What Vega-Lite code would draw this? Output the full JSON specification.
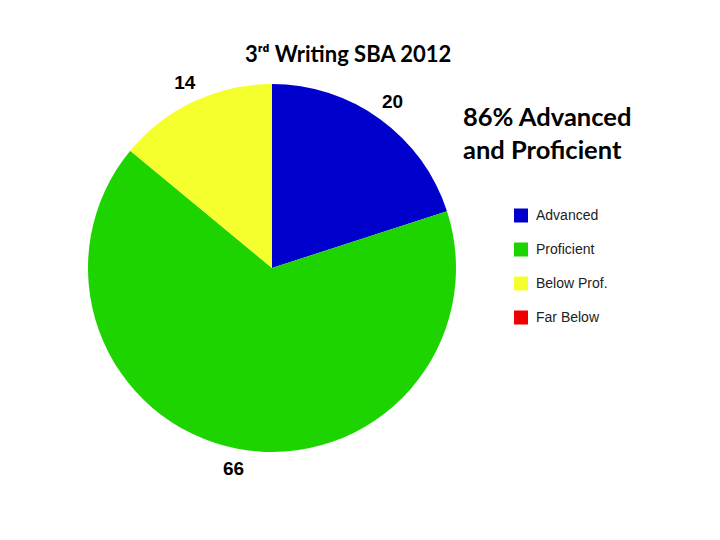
{
  "$schema": "https://vega.github.io/schema/vega-lite/v6.json",
  "width": 544,
  "height": 536,
  "autosize": "none",
  "padding": {"left": 0, "top": 0, "right": 176, "bottom": 4},
  "background": "white",
  "title": {
    "text": "3ʳᵈ Writing SBA 2012",
    "anchor": "start",
    "frame": "group",
    "offset": -67,
    "dx": 245,
    "font": "Lato",
    "fontSize": 22,
    "fontWeight": "bold",
    "color": "black"
  },
  "data": {
    "values": [
      {"level": "Advanced", "pct": 20, "rank": 1},
      {"level": "Proficient", "pct": 66, "rank": 2},
      {"level": "Below Prof.", "pct": 14, "rank": 3},
      {"level": "Far Below", "pct": 0, "rank": 4}
    ]
  },
  "encoding": {
    "theta": {"field": "pct", "type": "quantitative", "stack": true},
    "order": {"field": "rank", "type": "quantitative"}
  },
  "layer": [
    {
      "mark": {"type": "arc", "radius": 184},
      "encoding": {
        "color": {
          "field": "level",
          "type": "nominal",
          "scale": {
            "domain": ["Advanced", "Proficient", "Below Prof.", "Far Below"],
            "range": ["#0000CC", "#1ED400", "#F5FF2E", "#EE0000"]
          },
          "legend": {
            "title": ["86% Advanced", "and Proficient"],
            "orient": "none",
            "legendX": 463,
            "legendY": 106,
            "titleFont": "Lato",
            "titleFontSize": 25.5,
            "titleFontWeight": "bold",
            "titleColor": "black",
            "titleLineHeight": 33,
            "titlePadding": 44,
            "symbolType": "square",
            "symbolSize": 196,
            "symbolStrokeWidth": 0,
            "symbolOffset": 51,
            "labelFont": "Liberation Sans",
            "labelFontSize": 14,
            "labelColor": "#222",
            "labelOffset": 8,
            "rowPadding": 20
          }
        }
      }
    },
    {
      "transform": [{"filter": "datum.pct > 0"}],
      "mark": {
        "type": "text",
        "radius": 205,
        "font": "Liberation Sans",
        "fontSize": 19,
        "fontWeight": "bold",
        "color": "black"
      },
      "encoding": {
        "text": {"field": "pct", "type": "quantitative"}
      }
    }
  ]
}
